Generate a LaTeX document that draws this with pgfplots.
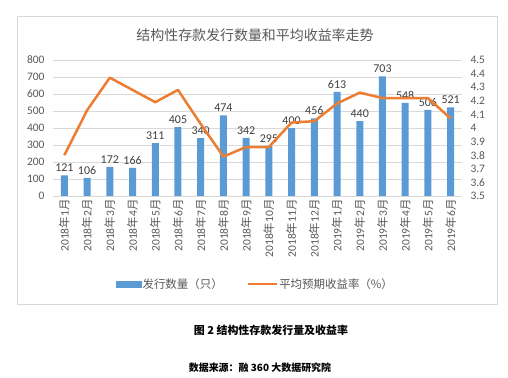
\documentclass[border=0pt]{standalone}
\usepackage{fontspec}
\setmainfont{Carlito}
\newfontfamily\cjk{Noto Sans CJK SC}
\usepackage{pgfplots}
\pgfplotsset{compat=1.18}
\definecolor{barblue}{HTML}{5B9BD5}
\definecolor{lineor}{HTML}{ED7D31}
\definecolor{txt}{HTML}{595959}
\definecolor{lab}{HTML}{404040}
\definecolor{gridc}{HTML}{D9D9D9}
\newcommand{\ym}[2]{#1{\cjk 年}#2{\cjk 月}}
\begin{document}
\begin{tikzpicture}
\useasboundingbox (0,0) rectangle (508bp,378bp);
\fill[white] (0,0) rectangle (508bp,378bp);
\draw[gridc, line width=0.8bp] (17bp,74bp) rectangle (497bp,362bp);
\node[text=txt, font=\cjk\fontsize{14}{16}\selectfont] at (255bp,343bp) {结构性存款发行数量和平均收益率走势};
\begin{axis}[
  at={(53bp,182bp)}, anchor=south west, scale only axis,
  width=409bp, height=136bp,
  ymin=0, ymax=800, ytick={0,100,...,800},
  xmin=-0.5, xmax=17.5, xtick={0,...,17},
  xticklabels={\ym{2018}{1},\ym{2018}{2},\ym{2018}{3},\ym{2018}{4},\ym{2018}{5},\ym{2018}{6},\ym{2018}{7},\ym{2018}{8},\ym{2018}{9},\ym{2018}{10},\ym{2018}{11},\ym{2018}{12},\ym{2019}{1},\ym{2019}{2},\ym{2019}{3},\ym{2019}{4},\ym{2019}{5},\ym{2019}{6}},
  x tick label style={rotate=90, anchor=east, font=\fontsize{11.5}{12}\selectfont, text=txt},
  y tick label style={font=\fontsize{11.5}{12}\selectfont, text=txt, xshift=-5bp},
  /pgf/number format/assume math mode=true,
  ymajorgrids, grid style={gridc, line width=0.75bp},
  axis line style={draw=none}, major tick length=0pt,
  nodes near coords,
  nodes near coords style={font=\fontsize{12}{13}\selectfont, text=lab},
]
\addplot[ybar, bar width=7bp, fill=barblue, draw=none] coordinates {
(0,121) (1,106) (2,172) (3,166) (4,311) (5,405) (6,340) (7,474) (8,342)
(9,295) (10,400) (11,456) (12,613) (13,440) (14,703) (15,548) (16,506) (17,521)};
\end{axis}
\begin{axis}[
  at={(53bp,182bp)}, anchor=south west, scale only axis,
  width=409bp, height=136bp,
  ymin=3.5, ymax=4.5, ytick={3.5,3.6,3.7,3.8,3.9,4,4.1,4.2,4.3,4.4,4.5},
  xmin=-0.5, xmax=17.5,
  axis y line*=right, axis x line=none,
  axis line style={draw=none}, major tick length=0pt,
  y tick label style={font=\fontsize{11.5}{12}\selectfont, text=txt, xshift=5bp},
  /pgf/number format/assume math mode=true,
  /pgf/number format/fixed, /pgf/number format/precision=1,
  legend style={at={(0.494,-0.647)}, anchor=center, draw=none, fill=none,
    legend columns=2, font=\cjk\fontsize{11.5}{13}\selectfont, text=txt,
    /tikz/every even column/.append style={column sep=22bp},
    nodes={inner sep=1.5bp}},
]
\addlegendimage{legend image code/.code={\fill[barblue] (0bp,-3bp) rectangle (25bp,3bp);}}
\addlegendentry{发行数量（只）}
\addplot[lineor, line width=2.5bp, line join=round,
  legend image code/.code={\draw[lineor, line width=2.5bp] (0bp,0bp) -- (29bp,0bp);}] coordinates {
(0,3.80) (1,4.13) (2,4.37) (3,4.28) (4,4.19) (5,4.28) (6,4.03) (7,3.79) (8,3.86)
(9,3.86) (10,4.04) (11,4.05) (12,4.18) (13,4.26) (14,4.22) (15,4.22) (16,4.22) (17,4.07)};
\addlegendentry{平均预期收益率（\%）}
\end{axis}
\node[font=\cjk\bfseries\fontsize{11}{13}\selectfont] at (271bp,48bp) {图 2 结构性存款发行量及收益率};
\node[font=\cjk\bfseries\fontsize{10}{12}\selectfont] at (260bp,10bp) {数据来源：融 360 大数据研究院};
\end{tikzpicture}
\end{document}
